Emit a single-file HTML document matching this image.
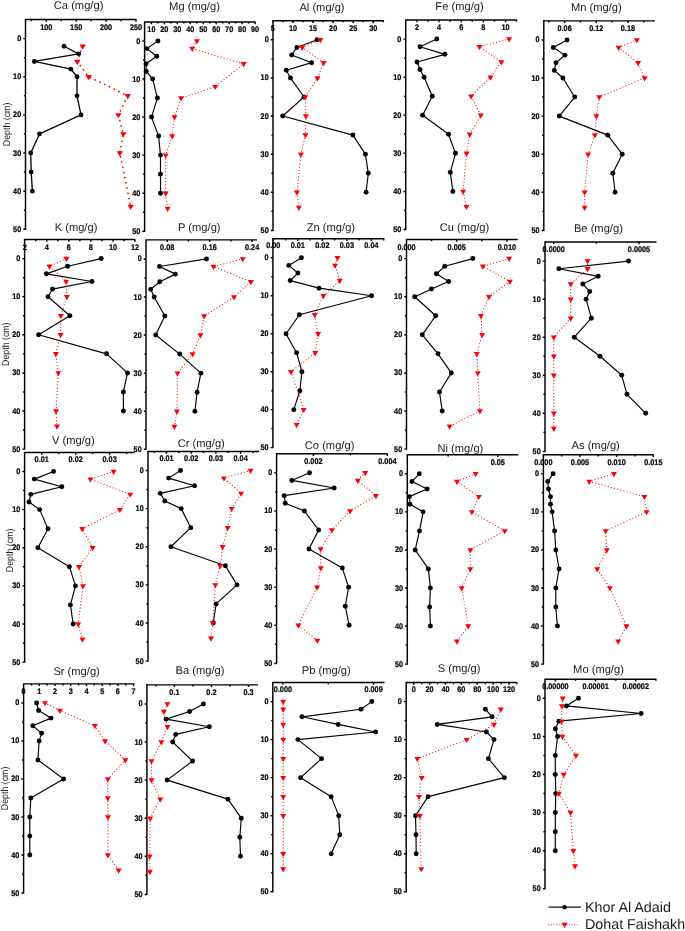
<!DOCTYPE html>
<html><head><meta charset="utf-8"><title>Depth profiles</title>
<style>
html,body{margin:0;padding:0;background:#fff;}
svg{display:block;}
#wrap{width:685px;height:931px;}
text{font-family:"Liberation Sans",Arial,sans-serif;fill:#000;text-rendering:geometricPrecision;}
.ax{fill:none;stroke:#000;stroke-width:1.45;stroke-linecap:butt;}
.yl{font-size:7.3px;font-weight:bold;text-anchor:end;stroke:#000;stroke-width:0.2;}
.xl{font-size:7.3px;font-weight:bold;text-anchor:middle;stroke:#000;stroke-width:0.2;}
.tt{font-size:11.15px;text-anchor:middle;fill:#1a1a1a;}
.dl{font-size:8.8px;text-anchor:middle;fill:#1a1a1a;}
.lg{font-size:14.3px;fill:#1a1a1a;}
.rl{fill:none;stroke:#ff0000;stroke-linecap:round;}
.bl{fill:none;stroke:#000;stroke-linejoin:round;}
.tri{fill:#ff0000;}
circle{fill:#000;}
</style></head>
<body>
<div id="wrap">
<svg width="685" height="931" viewBox="0 0 685 931">
<rect width="685" height="931" fill="#fff"/>
<path d="M25.5 18.8V230.03M24.77 19.53H136.5M25.5 38.6h-2.23M25.5 76.74h-2.23M25.5 114.88h-2.23M25.5 153.02h-2.23M25.5 191.16h-2.23M25.5 229.3h-2.23M25.5 57.67h-1.62M25.5 95.81h-1.62M25.5 133.95h-1.62M25.5 172.09h-1.62M25.5 210.23h-1.62M46.3 19.53v2.23M76.2 19.53v2.23M106.1 19.53v2.23M136 19.53v2.23M31.35 19.53v1.62M61.25 19.53v1.62M91.15 19.53v1.62M121.05 19.53v1.62" class="ax"/>
<text transform="translate(21.2 41.15) scale(1 1.12)" class="yl">0</text>
<text transform="translate(21.2 79.29) scale(1 1.12)" class="yl">10</text>
<text transform="translate(21.2 117.43) scale(1 1.12)" class="yl">20</text>
<text transform="translate(21.2 155.57) scale(1 1.12)" class="yl">30</text>
<text transform="translate(21.2 193.71) scale(1 1.12)" class="yl">40</text>
<text transform="translate(21.2 231.85) scale(1 1.12)" class="yl">50</text>
<text transform="translate(46.3 29.85) scale(1 1.12)" class="xl">100</text>
<text transform="translate(76.2 29.85) scale(1 1.12)" class="xl">150</text>
<text transform="translate(106.1 29.85) scale(1 1.12)" class="xl">200</text>
<text transform="translate(136 29.85) scale(1 1.12)" class="xl">250</text>
<text x="78.6" y="8.9" class="tt">Ca (mg/g)</text>
<text transform="translate(9.8 124.4) rotate(-90) scale(1 1.12)" class="dl">Depth (cm)</text>
<polyline points="64,46.23 78.7,53.86 34.3,61.48 70.9,69.11 77,76.74 77,95.81 81,114.88 39.5,133.95 30.7,153.02 31.2,172.09 32.4,191.16" class="bl" stroke-width="1.3"/>
<circle cx="64" cy="46.23" r="2.4"/>
<circle cx="78.7" cy="53.86" r="2.4"/>
<circle cx="34.3" cy="61.48" r="2.4"/>
<circle cx="70.9" cy="69.11" r="2.4"/>
<circle cx="77" cy="76.74" r="2.4"/>
<circle cx="77" cy="95.81" r="2.4"/>
<circle cx="81" cy="114.88" r="2.4"/>
<circle cx="39.5" cy="133.95" r="2.4"/>
<circle cx="30.7" cy="153.02" r="2.4"/>
<circle cx="31.2" cy="172.09" r="2.4"/>
<circle cx="32.4" cy="191.16" r="2.4"/>
<polyline points="82.7,46.23 77.3,61.48 88.6,76.74 127.8,95.81 118.4,114.88 123.3,133.95 119.8,153.02 130.7,206.42" class="rl" stroke-width="1.75" stroke-dasharray="0.05 5.25"/>
<path d="M79.5 44.49h6.4l-3.2 5.2z" class="tri"/>
<path d="M74.1 59.75h6.4l-3.2 5.2z" class="tri"/>
<path d="M85.4 75.01h6.4l-3.2 5.2z" class="tri"/>
<path d="M124.6 94.08h6.4l-3.2 5.2z" class="tri"/>
<path d="M115.2 113.15h6.4l-3.2 5.2z" class="tri"/>
<path d="M120.1 132.22h6.4l-3.2 5.2z" class="tri"/>
<path d="M116.6 151.29h6.4l-3.2 5.2z" class="tri"/>
<path d="M127.5 204.68h6.4l-3.2 5.2z" class="tri"/>
<path d="M144.6 21.25V231.92M143.88 21.98H255.6M144.6 41h-2.23M144.6 79.04h-2.23M144.6 117.08h-2.23M144.6 155.12h-2.23M144.6 193.16h-2.23M144.6 231.2h-2.23M144.6 60.02h-1.62M144.6 98.06h-1.62M144.6 136.1h-1.62M144.6 174.14h-1.62M144.6 212.18h-1.62M151.4 21.98v2.23M164.36 21.98v2.23M177.32 21.98v2.23M190.29 21.98v2.23M203.25 21.98v2.23M216.21 21.98v2.23M229.18 21.98v2.23M242.14 21.98v2.23M255.1 21.98v2.23M157.88 21.98v1.62M170.84 21.98v1.62M183.81 21.98v1.62M196.77 21.98v1.62M209.73 21.98v1.62M222.69 21.98v1.62M235.66 21.98v1.62M248.62 21.98v1.62" class="ax"/>
<text transform="translate(140.3 43.55) scale(1 1.12)" class="yl">0</text>
<text transform="translate(140.3 81.59) scale(1 1.12)" class="yl">10</text>
<text transform="translate(140.3 119.63) scale(1 1.12)" class="yl">20</text>
<text transform="translate(140.3 157.67) scale(1 1.12)" class="yl">30</text>
<text transform="translate(140.3 195.71) scale(1 1.12)" class="yl">40</text>
<text transform="translate(140.3 233.75) scale(1 1.12)" class="yl">50</text>
<text transform="translate(151.4 32.15) scale(1 1.12)" class="xl">10</text>
<text transform="translate(164.36 32.15) scale(1 1.12)" class="xl">20</text>
<text transform="translate(177.32 32.15) scale(1 1.12)" class="xl">30</text>
<text transform="translate(190.29 32.15) scale(1 1.12)" class="xl">40</text>
<text transform="translate(203.25 32.15) scale(1 1.12)" class="xl">50</text>
<text transform="translate(216.21 32.15) scale(1 1.12)" class="xl">60</text>
<text transform="translate(229.18 32.15) scale(1 1.12)" class="xl">70</text>
<text transform="translate(242.14 32.15) scale(1 1.12)" class="xl">80</text>
<text transform="translate(255.1 32.15) scale(1 1.12)" class="xl">90</text>
<text x="194.5" y="10" class="tt">Mg (mg/g)</text>
<polyline points="157.9,41 146.8,48.61 156.7,56.22 146.1,63.82 146.3,71.43 152.7,79.04 157.4,98.06 151.5,117.08 158.6,136.1 160.5,155.12 160.5,174.14 160.5,193.16" class="bl" stroke-width="1.15"/>
<circle cx="157.9" cy="41" r="2.48"/>
<circle cx="146.8" cy="48.61" r="2.48"/>
<circle cx="156.7" cy="56.22" r="2.48"/>
<circle cx="146.1" cy="63.82" r="2.48"/>
<circle cx="146.3" cy="71.43" r="2.48"/>
<circle cx="152.7" cy="79.04" r="2.48"/>
<circle cx="157.4" cy="98.06" r="2.48"/>
<circle cx="151.5" cy="117.08" r="2.48"/>
<circle cx="158.6" cy="136.1" r="2.48"/>
<circle cx="160.5" cy="155.12" r="2.48"/>
<circle cx="160.5" cy="174.14" r="2.48"/>
<circle cx="160.5" cy="193.16" r="2.48"/>
<polyline points="196.9,41 192.2,48.61 243.7,63.82 215.3,86.65 181.1,98.06 174.5,117.08 172.1,136.1 165.7,155.12 165.7,193.16 167.6,208.38" class="rl" stroke-width="1.15" stroke-dasharray="0.05 3.2"/>
<path d="M193.9 39.27h6l-3 5.2z" class="tri"/>
<path d="M189.2 46.87h6l-3 5.2z" class="tri"/>
<path d="M240.7 62.09h6l-3 5.2z" class="tri"/>
<path d="M212.3 84.91h6l-3 5.2z" class="tri"/>
<path d="M178.1 96.33h6l-3 5.2z" class="tri"/>
<path d="M171.5 115.35h6l-3 5.2z" class="tri"/>
<path d="M169.1 134.37h6l-3 5.2z" class="tri"/>
<path d="M162.7 153.39h6l-3 5.2z" class="tri"/>
<path d="M162.7 191.43h6l-3 5.2z" class="tri"/>
<path d="M164.6 206.64h6l-3 5.2z" class="tri"/>
<path d="M273 20.01V231.12M272.27 20.74H384M273 39.8h-2.23M273 77.92h-2.23M273 116.04h-2.23M273 154.16h-2.23M273 192.28h-2.23M273 230.4h-2.23M273 58.86h-1.62M273 96.98h-1.62M273 135.1h-1.62M273 173.22h-1.62M273 211.34h-1.62M272.9 20.74v2.23M292.98 20.74v2.23M313.06 20.74v2.23M333.14 20.74v2.23M353.22 20.74v2.23M373.3 20.74v2.23M282.94 20.74v1.62M303.02 20.74v1.62M323.1 20.74v1.62M343.18 20.74v1.62M363.26 20.74v1.62M383.34 20.74v1.62" class="ax"/>
<text transform="translate(268.7 42.35) scale(1 1.12)" class="yl">0</text>
<text transform="translate(268.7 80.47) scale(1 1.12)" class="yl">10</text>
<text transform="translate(268.7 118.59) scale(1 1.12)" class="yl">20</text>
<text transform="translate(268.7 156.71) scale(1 1.12)" class="yl">30</text>
<text transform="translate(268.7 194.83) scale(1 1.12)" class="yl">40</text>
<text transform="translate(268.7 232.95) scale(1 1.12)" class="yl">50</text>
<text transform="translate(272.9 30.75) scale(1 1.12)" class="xl">5</text>
<text transform="translate(292.98 30.75) scale(1 1.12)" class="xl">10</text>
<text transform="translate(313.06 30.75) scale(1 1.12)" class="xl">15</text>
<text transform="translate(333.14 30.75) scale(1 1.12)" class="xl">20</text>
<text transform="translate(353.22 30.75) scale(1 1.12)" class="xl">25</text>
<text transform="translate(373.3 30.75) scale(1 1.12)" class="xl">30</text>
<text x="322" y="10.9" class="tt">Al (mg/g)</text>
<polyline points="317,39.8 296.9,47.42 291.7,55.05 311.6,62.67 286.3,70.3 290.5,77.92 304,96.98 282.7,116.04 352.9,135.1 365.4,154.16 368.3,173.22 366.1,192.28" class="bl" stroke-width="1.15"/>
<circle cx="317" cy="39.8" r="2.48"/>
<circle cx="296.9" cy="47.42" r="2.48"/>
<circle cx="291.7" cy="55.05" r="2.48"/>
<circle cx="311.6" cy="62.67" r="2.48"/>
<circle cx="286.3" cy="70.3" r="2.48"/>
<circle cx="290.5" cy="77.92" r="2.48"/>
<circle cx="304" cy="96.98" r="2.48"/>
<circle cx="282.7" cy="116.04" r="2.48"/>
<circle cx="352.9" cy="135.1" r="2.48"/>
<circle cx="365.4" cy="154.16" r="2.48"/>
<circle cx="368.3" cy="173.22" r="2.48"/>
<circle cx="366.1" cy="192.28" r="2.48"/>
<polyline points="320.3,39.8 302.1,47.42 323.6,62.67 317.5,77.92 305.2,96.98 305.9,116.04 305.4,135.1 300.9,154.16 296.9,192.28 298.8,207.53" class="rl" stroke-width="1.15" stroke-dasharray="0.05 3.2"/>
<path d="M317.3 38.07h6l-3 5.2z" class="tri"/>
<path d="M299.1 45.69h6l-3 5.2z" class="tri"/>
<path d="M320.6 60.94h6l-3 5.2z" class="tri"/>
<path d="M314.5 76.19h6l-3 5.2z" class="tri"/>
<path d="M302.2 95.25h6l-3 5.2z" class="tri"/>
<path d="M302.9 114.31h6l-3 5.2z" class="tri"/>
<path d="M302.4 133.37h6l-3 5.2z" class="tri"/>
<path d="M297.9 152.43h6l-3 5.2z" class="tri"/>
<path d="M293.9 190.55h6l-3 5.2z" class="tri"/>
<path d="M295.8 205.79h6l-3 5.2z" class="tri"/>
<path d="M405.7 19.33V230.22M404.97 20.06H517M405.7 39.1h-2.23M405.7 77.18h-2.23M405.7 115.26h-2.23M405.7 153.34h-2.23M405.7 191.42h-2.23M405.7 229.5h-2.23M405.7 58.14h-1.62M405.7 96.22h-1.62M405.7 134.3h-1.62M405.7 172.38h-1.62M405.7 210.46h-1.62M417 20.06v2.23M439.12 20.06v2.23M461.25 20.06v2.23M483.38 20.06v2.23M505.5 20.06v2.23M428.06 20.06v1.62M450.19 20.06v1.62M472.31 20.06v1.62M494.44 20.06v1.62M516.56 20.06v1.62" class="ax"/>
<text transform="translate(401.4 41.65) scale(1 1.12)" class="yl">0</text>
<text transform="translate(401.4 79.73) scale(1 1.12)" class="yl">10</text>
<text transform="translate(401.4 117.81) scale(1 1.12)" class="yl">20</text>
<text transform="translate(401.4 155.89) scale(1 1.12)" class="yl">30</text>
<text transform="translate(401.4 193.97) scale(1 1.12)" class="yl">40</text>
<text transform="translate(401.4 232.05) scale(1 1.12)" class="yl">50</text>
<text transform="translate(417 30.25) scale(1 1.12)" class="xl">2</text>
<text transform="translate(439.12 30.25) scale(1 1.12)" class="xl">4</text>
<text transform="translate(461.25 30.25) scale(1 1.12)" class="xl">6</text>
<text transform="translate(483.38 30.25) scale(1 1.12)" class="xl">8</text>
<text transform="translate(505.5 30.25) scale(1 1.12)" class="xl">10</text>
<text x="459.5" y="9.6" class="tt">Fe (mg/g)</text>
<polyline points="436.8,39.1 420,46.72 444.9,54.33 417,61.95 420,69.56 424.1,77.18 432.3,96.22 422.6,115.26 448.6,134.3 455.5,153.34 450.3,172.38 452.9,191.42" class="bl" stroke-width="1.15"/>
<circle cx="436.8" cy="39.1" r="2.48"/>
<circle cx="420" cy="46.72" r="2.48"/>
<circle cx="444.9" cy="54.33" r="2.48"/>
<circle cx="417" cy="61.95" r="2.48"/>
<circle cx="420" cy="69.56" r="2.48"/>
<circle cx="424.1" cy="77.18" r="2.48"/>
<circle cx="432.3" cy="96.22" r="2.48"/>
<circle cx="422.6" cy="115.26" r="2.48"/>
<circle cx="448.6" cy="134.3" r="2.48"/>
<circle cx="455.5" cy="153.34" r="2.48"/>
<circle cx="450.3" cy="172.38" r="2.48"/>
<circle cx="452.9" cy="191.42" r="2.48"/>
<polyline points="509.1,39.1 479.4,46.72 501.3,61.95 490.5,77.18 471.1,96.22 480.8,115.26 469.7,134.3 466.6,153.34 463.1,191.42 466.4,206.65" class="rl" stroke-width="1.15" stroke-dasharray="0.05 3.2"/>
<path d="M506.1 37.37h6l-3 5.2z" class="tri"/>
<path d="M476.4 44.98h6l-3 5.2z" class="tri"/>
<path d="M498.3 60.21h6l-3 5.2z" class="tri"/>
<path d="M487.5 75.45h6l-3 5.2z" class="tri"/>
<path d="M468.1 94.49h6l-3 5.2z" class="tri"/>
<path d="M477.8 113.53h6l-3 5.2z" class="tri"/>
<path d="M466.7 132.57h6l-3 5.2z" class="tri"/>
<path d="M463.6 151.61h6l-3 5.2z" class="tri"/>
<path d="M460.1 189.69h6l-3 5.2z" class="tri"/>
<path d="M463.4 204.92h6l-3 5.2z" class="tri"/>
<path d="M543.8 20.12V231.12M543.07 20.85H655M543.8 39.9h-2.23M543.8 78h-2.23M543.8 116.1h-2.23M543.8 154.2h-2.23M543.8 192.3h-2.23M543.8 230.4h-2.23M543.8 58.95h-1.62M543.8 97.05h-1.62M543.8 135.15h-1.62M543.8 173.25h-1.62M543.8 211.35h-1.62M564.6 20.85v2.23M596.25 20.85v2.23M627.9 20.85v2.23M548.78 20.85v1.62M580.42 20.85v1.62M612.08 20.85v1.62M643.72 20.85v1.62" class="ax"/>
<text transform="translate(539.5 42.45) scale(1 1.12)" class="yl">0</text>
<text transform="translate(539.5 80.55) scale(1 1.12)" class="yl">10</text>
<text transform="translate(539.5 118.65) scale(1 1.12)" class="yl">20</text>
<text transform="translate(539.5 156.75) scale(1 1.12)" class="yl">30</text>
<text transform="translate(539.5 194.85) scale(1 1.12)" class="yl">40</text>
<text transform="translate(539.5 232.95) scale(1 1.12)" class="yl">50</text>
<text transform="translate(564.6 30.75) scale(1 1.12)" class="xl">0.06</text>
<text transform="translate(596.25 30.75) scale(1 1.12)" class="xl">0.12</text>
<text transform="translate(627.9 30.75) scale(1 1.12)" class="xl">0.18</text>
<text x="596.4" y="10.6" class="tt">Mn (mg/g)</text>
<polyline points="567.1,39.9 553.3,47.52 564.9,55.14 556,62.76 554.3,70.38 562.9,78 574.7,97.05 559.3,116.1 607.8,135.15 622.2,154.2 612.8,173.25 615.1,192.3" class="bl" stroke-width="1.15"/>
<circle cx="567.1" cy="39.9" r="2.48"/>
<circle cx="553.3" cy="47.52" r="2.48"/>
<circle cx="564.9" cy="55.14" r="2.48"/>
<circle cx="556" cy="62.76" r="2.48"/>
<circle cx="554.3" cy="70.38" r="2.48"/>
<circle cx="562.9" cy="78" r="2.48"/>
<circle cx="574.7" cy="97.05" r="2.48"/>
<circle cx="559.3" cy="116.1" r="2.48"/>
<circle cx="607.8" cy="135.15" r="2.48"/>
<circle cx="622.2" cy="154.2" r="2.48"/>
<circle cx="612.8" cy="173.25" r="2.48"/>
<circle cx="615.1" cy="192.3" r="2.48"/>
<polyline points="636.8,39.9 618.6,47.52 638.1,62.76 644.6,78 599.2,97.05 596.4,116.1 594.9,135.15 588.1,154.2 584.6,192.3 584.6,207.54" class="rl" stroke-width="1.15" stroke-dasharray="0.05 3.2"/>
<path d="M633.8 38.17h6l-3 5.2z" class="tri"/>
<path d="M615.6 45.79h6l-3 5.2z" class="tri"/>
<path d="M635.1 61.03h6l-3 5.2z" class="tri"/>
<path d="M641.6 76.27h6l-3 5.2z" class="tri"/>
<path d="M596.2 95.32h6l-3 5.2z" class="tri"/>
<path d="M593.4 114.37h6l-3 5.2z" class="tri"/>
<path d="M591.9 133.42h6l-3 5.2z" class="tri"/>
<path d="M585.1 152.47h6l-3 5.2z" class="tri"/>
<path d="M581.6 190.57h6l-3 5.2z" class="tri"/>
<path d="M581.6 205.81h6l-3 5.2z" class="tri"/>
<path d="M24.6 238.83V449.83M23.88 239.55H135.4M24.6 258.6h-2.23M24.6 296.7h-2.23M24.6 334.8h-2.23M24.6 372.9h-2.23M24.6 411h-2.23M24.6 449.1h-2.23M24.6 277.65h-1.62M24.6 315.75h-1.62M24.6 353.85h-1.62M24.6 391.95h-1.62M24.6 430.05h-1.62M24.7 239.55v2.23M46.76 239.55v2.23M68.82 239.55v2.23M90.88 239.55v2.23M112.94 239.55v2.23M135 239.55v2.23M35.73 239.55v1.62M57.79 239.55v1.62M79.85 239.55v1.62M101.91 239.55v1.62M123.97 239.55v1.62" class="ax"/>
<text transform="translate(20.3 261.15) scale(1 1.12)" class="yl">0</text>
<text transform="translate(20.3 299.25) scale(1 1.12)" class="yl">10</text>
<text transform="translate(20.3 337.35) scale(1 1.12)" class="yl">20</text>
<text transform="translate(20.3 375.45) scale(1 1.12)" class="yl">30</text>
<text transform="translate(20.3 413.55) scale(1 1.12)" class="yl">40</text>
<text transform="translate(20.3 451.65) scale(1 1.12)" class="yl">50</text>
<text transform="translate(24.7 249.85) scale(1 1.12)" class="xl">2</text>
<text transform="translate(46.76 249.85) scale(1 1.12)" class="xl">4</text>
<text transform="translate(68.82 249.85) scale(1 1.12)" class="xl">6</text>
<text transform="translate(90.88 249.85) scale(1 1.12)" class="xl">8</text>
<text transform="translate(112.94 249.85) scale(1 1.12)" class="xl">10</text>
<text transform="translate(135 249.85) scale(1 1.12)" class="xl">12</text>
<text x="76" y="231.1" class="tt">K (mg/g)</text>
<text transform="translate(8.6 344.2) rotate(-90) scale(1 1.12)" class="dl">Depth (cm)</text>
<polyline points="101.2,258.6 67.6,266.22 46.4,273.84 91.9,281.46 52.5,289.08 48,296.7 69.9,315.75 38.6,334.8 106.5,353.85 127.5,372.9 123.4,391.95 123.4,411" class="bl" stroke-width="1.15"/>
<circle cx="101.2" cy="258.6" r="2.48"/>
<circle cx="67.6" cy="266.22" r="2.48"/>
<circle cx="46.4" cy="273.84" r="2.48"/>
<circle cx="91.9" cy="281.46" r="2.48"/>
<circle cx="52.5" cy="289.08" r="2.48"/>
<circle cx="48" cy="296.7" r="2.48"/>
<circle cx="69.9" cy="315.75" r="2.48"/>
<circle cx="38.6" cy="334.8" r="2.48"/>
<circle cx="106.5" cy="353.85" r="2.48"/>
<circle cx="127.5" cy="372.9" r="2.48"/>
<circle cx="123.4" cy="391.95" r="2.48"/>
<circle cx="123.4" cy="411" r="2.48"/>
<polyline points="66.4,258.6 49.5,266.22 66.1,281.46 66.9,296.7 60.8,315.75 60.6,334.8 55.8,353.85 58.3,372.9 56,411 57,426.24" class="rl" stroke-width="1.15" stroke-dasharray="0.05 3.2"/>
<path d="M63.4 256.87h6l-3 5.2z" class="tri"/>
<path d="M46.5 264.49h6l-3 5.2z" class="tri"/>
<path d="M63.1 279.73h6l-3 5.2z" class="tri"/>
<path d="M63.9 294.97h6l-3 5.2z" class="tri"/>
<path d="M57.8 314.02h6l-3 5.2z" class="tri"/>
<path d="M57.6 333.07h6l-3 5.2z" class="tri"/>
<path d="M52.8 352.12h6l-3 5.2z" class="tri"/>
<path d="M55.3 371.17h6l-3 5.2z" class="tri"/>
<path d="M53 409.27h6l-3 5.2z" class="tri"/>
<path d="M54 424.51h6l-3 5.2z" class="tri"/>
<path d="M146 239.13V450.03M145.28 239.86H257M146 258.9h-2.23M146 296.98h-2.23M146 335.06h-2.23M146 373.14h-2.23M146 411.22h-2.23M146 449.3h-2.23M146 277.94h-1.62M146 316.02h-1.62M146 354.1h-1.62M146 392.18h-1.62M146 430.26h-1.62M167.2 239.86v2.23M209.65 239.86v2.23M252.1 239.86v2.23M188.42 239.86v1.62M230.88 239.86v1.62" class="ax"/>
<text transform="translate(141.7 261.45) scale(1 1.12)" class="yl">0</text>
<text transform="translate(141.7 299.53) scale(1 1.12)" class="yl">10</text>
<text transform="translate(141.7 337.61) scale(1 1.12)" class="yl">20</text>
<text transform="translate(141.7 375.69) scale(1 1.12)" class="yl">30</text>
<text transform="translate(141.7 413.77) scale(1 1.12)" class="yl">40</text>
<text transform="translate(141.7 451.85) scale(1 1.12)" class="yl">50</text>
<text transform="translate(167.2 249.75) scale(1 1.12)" class="xl">0.08</text>
<text transform="translate(209.65 249.75) scale(1 1.12)" class="xl">0.16</text>
<text transform="translate(252.1 249.75) scale(1 1.12)" class="xl">0.24</text>
<text x="199.3" y="231.1" class="tt">P (mg/g)</text>
<polyline points="206.5,258.9 159.5,266.52 175.4,274.13 159.8,281.75 150.7,289.36 154.2,296.98 164.8,316.02 155.7,335.06 179.7,354.1 200.9,373.14 197.1,392.18 194.9,411.22" class="bl" stroke-width="1.15"/>
<circle cx="206.5" cy="258.9" r="2.48"/>
<circle cx="159.5" cy="266.52" r="2.48"/>
<circle cx="175.4" cy="274.13" r="2.48"/>
<circle cx="159.8" cy="281.75" r="2.48"/>
<circle cx="150.7" cy="289.36" r="2.48"/>
<circle cx="154.2" cy="296.98" r="2.48"/>
<circle cx="164.8" cy="316.02" r="2.48"/>
<circle cx="155.7" cy="335.06" r="2.48"/>
<circle cx="179.7" cy="354.1" r="2.48"/>
<circle cx="200.9" cy="373.14" r="2.48"/>
<circle cx="197.1" cy="392.18" r="2.48"/>
<circle cx="194.9" cy="411.22" r="2.48"/>
<polyline points="242.8,258.9 213.5,266.52 250.9,281.75 234,296.98 204.2,316.02 200.4,335.06 192.6,354.1 177.5,373.14 176.9,411.22 174.4,426.45" class="rl" stroke-width="1.15" stroke-dasharray="0.05 3.2"/>
<path d="M239.8 257.17h6l-3 5.2z" class="tri"/>
<path d="M210.5 264.78h6l-3 5.2z" class="tri"/>
<path d="M247.9 280.01h6l-3 5.2z" class="tri"/>
<path d="M231 295.25h6l-3 5.2z" class="tri"/>
<path d="M201.2 314.29h6l-3 5.2z" class="tri"/>
<path d="M197.4 333.33h6l-3 5.2z" class="tri"/>
<path d="M189.6 352.37h6l-3 5.2z" class="tri"/>
<path d="M174.5 371.41h6l-3 5.2z" class="tri"/>
<path d="M173.9 409.49h6l-3 5.2z" class="tri"/>
<path d="M171.4 424.72h6l-3 5.2z" class="tri"/>
<path d="M272.9 238.1V448.33M272.17 238.82H384.5M272.9 257.8h-2.23M272.9 295.76h-2.23M272.9 333.72h-2.23M272.9 371.68h-2.23M272.9 409.64h-2.23M272.9 447.6h-2.23M272.9 276.78h-1.62M272.9 314.74h-1.62M272.9 352.7h-1.62M272.9 390.66h-1.62M272.9 428.62h-1.62M273.3 238.82v2.23M297.82 238.82v2.23M322.35 238.82v2.23M346.88 238.82v2.23M371.4 238.82v2.23M285.56 238.82v1.62M310.09 238.82v1.62M334.61 238.82v1.62M359.14 238.82v1.62M383.66 238.82v1.62" class="ax"/>
<text transform="translate(268.6 260.35) scale(1 1.12)" class="yl">0</text>
<text transform="translate(268.6 298.31) scale(1 1.12)" class="yl">10</text>
<text transform="translate(268.6 336.27) scale(1 1.12)" class="yl">20</text>
<text transform="translate(268.6 374.23) scale(1 1.12)" class="yl">30</text>
<text transform="translate(268.6 412.19) scale(1 1.12)" class="yl">40</text>
<text transform="translate(268.6 450.15) scale(1 1.12)" class="yl">50</text>
<text transform="translate(273.3 248.45) scale(1 1.12)" class="xl">0.00</text>
<text transform="translate(297.82 248.45) scale(1 1.12)" class="xl">0.01</text>
<text transform="translate(322.35 248.45) scale(1 1.12)" class="xl">0.02</text>
<text transform="translate(346.88 248.45) scale(1 1.12)" class="xl">0.03</text>
<text transform="translate(371.4 248.45) scale(1 1.12)" class="xl">0.04</text>
<text x="330.9" y="231.1" class="tt">Zn (mg/g)</text>
<polyline points="301.4,257.8 288.8,265.39 297.9,272.98 290.3,280.58 319.1,288.17 371.6,295.76 299.4,314.74 286,333.72 296.6,352.7 301.9,371.68 299.9,390.66 293.8,409.64" class="bl" stroke-width="1.15"/>
<circle cx="301.4" cy="257.8" r="2.48"/>
<circle cx="288.8" cy="265.39" r="2.48"/>
<circle cx="297.9" cy="272.98" r="2.48"/>
<circle cx="290.3" cy="280.58" r="2.48"/>
<circle cx="319.1" cy="288.17" r="2.48"/>
<circle cx="371.6" cy="295.76" r="2.48"/>
<circle cx="299.4" cy="314.74" r="2.48"/>
<circle cx="286" cy="333.72" r="2.48"/>
<circle cx="296.6" cy="352.7" r="2.48"/>
<circle cx="301.9" cy="371.68" r="2.48"/>
<circle cx="299.9" cy="390.66" r="2.48"/>
<circle cx="293.8" cy="409.64" r="2.48"/>
<polyline points="337.5,257.8 335,265.39 339.8,280.58 323.4,295.76 314.8,314.74 318.1,333.72 315.3,352.7 291,371.68 303.7,409.64 296.6,424.82" class="rl" stroke-width="1.15" stroke-dasharray="0.05 3.2"/>
<path d="M334.5 256.07h6l-3 5.2z" class="tri"/>
<path d="M332 263.66h6l-3 5.2z" class="tri"/>
<path d="M336.8 278.84h6l-3 5.2z" class="tri"/>
<path d="M320.4 294.03h6l-3 5.2z" class="tri"/>
<path d="M311.8 313.01h6l-3 5.2z" class="tri"/>
<path d="M315.1 331.99h6l-3 5.2z" class="tri"/>
<path d="M312.3 350.97h6l-3 5.2z" class="tri"/>
<path d="M288 369.95h6l-3 5.2z" class="tri"/>
<path d="M300.7 407.91h6l-3 5.2z" class="tri"/>
<path d="M293.6 423.09h6l-3 5.2z" class="tri"/>
<path d="M406.5 238.83V449.83M405.77 239.55H517.7M406.5 258.6h-2.23M406.5 296.7h-2.23M406.5 334.8h-2.23M406.5 372.9h-2.23M406.5 411h-2.23M406.5 449.1h-2.23M406.5 277.65h-1.62M406.5 315.75h-1.62M406.5 353.85h-1.62M406.5 391.95h-1.62M406.5 430.05h-1.62M406.5 239.55v2.23M456.7 239.55v2.23M506.9 239.55v2.23M431.6 239.55v1.62M481.8 239.55v1.62" class="ax"/>
<text transform="translate(402.2 261.15) scale(1 1.12)" class="yl">0</text>
<text transform="translate(402.2 299.25) scale(1 1.12)" class="yl">10</text>
<text transform="translate(402.2 337.35) scale(1 1.12)" class="yl">20</text>
<text transform="translate(402.2 375.45) scale(1 1.12)" class="yl">30</text>
<text transform="translate(402.2 413.55) scale(1 1.12)" class="yl">40</text>
<text transform="translate(402.2 451.65) scale(1 1.12)" class="yl">50</text>
<text transform="translate(406.5 249.85) scale(1 1.12)" class="xl">0.000</text>
<text transform="translate(456.7 249.85) scale(1 1.12)" class="xl">0.005</text>
<text transform="translate(506.9 249.85) scale(1 1.12)" class="xl">0.010</text>
<text x="464.5" y="230.8" class="tt">Cu (mg/g)</text>
<polyline points="472.8,258.6 444.8,266.22 436.4,273.84 448.6,281.46 431.4,289.08 414.7,296.7 435.7,315.75 422.3,334.8 438,353.85 451.3,372.9 439.5,391.95 442.2,411" class="bl" stroke-width="1.15"/>
<circle cx="472.8" cy="258.6" r="2.48"/>
<circle cx="444.8" cy="266.22" r="2.48"/>
<circle cx="436.4" cy="273.84" r="2.48"/>
<circle cx="448.6" cy="281.46" r="2.48"/>
<circle cx="431.4" cy="289.08" r="2.48"/>
<circle cx="414.7" cy="296.7" r="2.48"/>
<circle cx="435.7" cy="315.75" r="2.48"/>
<circle cx="422.3" cy="334.8" r="2.48"/>
<circle cx="438" cy="353.85" r="2.48"/>
<circle cx="451.3" cy="372.9" r="2.48"/>
<circle cx="439.5" cy="391.95" r="2.48"/>
<circle cx="442.2" cy="411" r="2.48"/>
<polyline points="509.1,258.6 482.9,266.22 509.9,281.46 488.9,296.7 480.9,315.75 482.1,334.8 476.8,353.85 477.8,372.9 479.9,411 449.6,426.24" class="rl" stroke-width="1.15" stroke-dasharray="0.05 3.2"/>
<path d="M506.1 256.87h6l-3 5.2z" class="tri"/>
<path d="M479.9 264.49h6l-3 5.2z" class="tri"/>
<path d="M506.9 279.73h6l-3 5.2z" class="tri"/>
<path d="M485.9 294.97h6l-3 5.2z" class="tri"/>
<path d="M477.9 314.02h6l-3 5.2z" class="tri"/>
<path d="M479.1 333.07h6l-3 5.2z" class="tri"/>
<path d="M473.8 352.12h6l-3 5.2z" class="tri"/>
<path d="M474.8 371.17h6l-3 5.2z" class="tri"/>
<path d="M476.9 409.27h6l-3 5.2z" class="tri"/>
<path d="M446.6 424.51h6l-3 5.2z" class="tri"/>
<path d="M545 241.35V452.12M544.27 242.07H656.5M545 261.1h-2.23M545 299.16h-2.23M545 337.22h-2.23M545 375.28h-2.23M545 413.34h-2.23M545 451.4h-2.23M545 280.13h-1.62M545 318.19h-1.62M545 356.25h-1.62M545 394.31h-1.62M545 432.37h-1.62M553.7 242.07v2.23M639 242.07v2.23M596.35 242.07v1.62" class="ax"/>
<text transform="translate(540.7 263.65) scale(1 1.12)" class="yl">0</text>
<text transform="translate(540.7 301.71) scale(1 1.12)" class="yl">10</text>
<text transform="translate(540.7 339.77) scale(1 1.12)" class="yl">20</text>
<text transform="translate(540.7 377.83) scale(1 1.12)" class="yl">30</text>
<text transform="translate(540.7 415.89) scale(1 1.12)" class="yl">40</text>
<text transform="translate(540.7 453.95) scale(1 1.12)" class="yl">50</text>
<text transform="translate(553.7 252.25) scale(1 1.12)" class="xl">0.0000</text>
<text transform="translate(639 252.25) scale(1 1.12)" class="xl">0.0005</text>
<text x="598.4" y="231.7" class="tt">Be (mg/g)</text>
<polyline points="628.5,261.1 558.9,268.71 598.2,276.32 582.8,283.94 589.7,291.55 586.1,299.16 591.4,318.19 574.3,337.22 600,356.25 621.7,375.28 627,394.31 645.7,413.34" class="bl" stroke-width="1.15"/>
<circle cx="628.5" cy="261.1" r="2.48"/>
<circle cx="558.9" cy="268.71" r="2.48"/>
<circle cx="598.2" cy="276.32" r="2.48"/>
<circle cx="582.8" cy="283.94" r="2.48"/>
<circle cx="589.7" cy="291.55" r="2.48"/>
<circle cx="586.1" cy="299.16" r="2.48"/>
<circle cx="591.4" cy="318.19" r="2.48"/>
<circle cx="574.3" cy="337.22" r="2.48"/>
<circle cx="600" cy="356.25" r="2.48"/>
<circle cx="621.7" cy="375.28" r="2.48"/>
<circle cx="627" cy="394.31" r="2.48"/>
<circle cx="645.7" cy="413.34" r="2.48"/>
<polyline points="587.6,261.1 587.6,268.71 570.7,283.94 570.7,299.16 570.7,318.19 553.8,337.22 553.8,356.25 553.8,375.28 553.8,413.34 553.8,428.56" class="rl" stroke-width="1.15" stroke-dasharray="0.05 3.2"/>
<path d="M584.6 259.37h6l-3 5.2z" class="tri"/>
<path d="M584.6 266.98h6l-3 5.2z" class="tri"/>
<path d="M567.7 282.2h6l-3 5.2z" class="tri"/>
<path d="M567.7 297.43h6l-3 5.2z" class="tri"/>
<path d="M567.7 316.46h6l-3 5.2z" class="tri"/>
<path d="M550.8 335.49h6l-3 5.2z" class="tri"/>
<path d="M550.8 354.52h6l-3 5.2z" class="tri"/>
<path d="M550.8 373.55h6l-3 5.2z" class="tri"/>
<path d="M550.8 411.61h6l-3 5.2z" class="tri"/>
<path d="M550.8 426.83h6l-3 5.2z" class="tri"/>
<path d="M24.6 451.71V662.83M23.88 452.44H134.5M24.6 471.5h-2.23M24.6 509.62h-2.23M24.6 547.74h-2.23M24.6 585.86h-2.23M24.6 623.98h-2.23M24.6 662.1h-2.23M24.6 490.56h-1.62M24.6 528.68h-1.62M24.6 566.8h-1.62M24.6 604.92h-1.62M24.6 643.04h-1.62M41.7 452.44v2.23M75.65 452.44v2.23M109.6 452.44v2.23M58.67 452.44v1.62M92.62 452.44v1.62M126.58 452.44v1.62" class="ax"/>
<text transform="translate(20.3 474.05) scale(1 1.12)" class="yl">0</text>
<text transform="translate(20.3 512.17) scale(1 1.12)" class="yl">10</text>
<text transform="translate(20.3 550.29) scale(1 1.12)" class="yl">20</text>
<text transform="translate(20.3 588.41) scale(1 1.12)" class="yl">30</text>
<text transform="translate(20.3 626.53) scale(1 1.12)" class="yl">40</text>
<text transform="translate(20.3 664.65) scale(1 1.12)" class="yl">50</text>
<text transform="translate(41.7 462.45) scale(1 1.12)" class="xl">0.01</text>
<text transform="translate(75.65 462.45) scale(1 1.12)" class="xl">0.02</text>
<text transform="translate(109.6 462.45) scale(1 1.12)" class="xl">0.03</text>
<text x="73.4" y="444" class="tt">V (mg/g)</text>
<text transform="translate(13.2 550.4) rotate(-90) scale(1 1.12)" class="dl">Depth (cm)</text>
<polyline points="53.5,471.5 34.3,479.12 61.8,486.75 30.8,494.37 29,502 39.6,509.62 48,528.68 37.9,547.74 69.4,566.8 75.5,585.86 70.4,604.92 73.2,623.98" class="bl" stroke-width="1.15"/>
<circle cx="53.5" cy="471.5" r="2.48"/>
<circle cx="34.3" cy="479.12" r="2.48"/>
<circle cx="61.8" cy="486.75" r="2.48"/>
<circle cx="30.8" cy="494.37" r="2.48"/>
<circle cx="29" cy="502" r="2.48"/>
<circle cx="39.6" cy="509.62" r="2.48"/>
<circle cx="48" cy="528.68" r="2.48"/>
<circle cx="37.9" cy="547.74" r="2.48"/>
<circle cx="69.4" cy="566.8" r="2.48"/>
<circle cx="75.5" cy="585.86" r="2.48"/>
<circle cx="70.4" cy="604.92" r="2.48"/>
<circle cx="73.2" cy="623.98" r="2.48"/>
<polyline points="113.6,471.5 90.4,479.12 130.2,494.37 119.9,509.62 82.3,528.68 92.6,547.74 79,566.8 83,585.86 78.2,623.98 82.5,639.23" class="rl" stroke-width="1.15" stroke-dasharray="0.05 3.2"/>
<path d="M110.6 469.77h6l-3 5.2z" class="tri"/>
<path d="M87.4 477.39h6l-3 5.2z" class="tri"/>
<path d="M127.2 492.64h6l-3 5.2z" class="tri"/>
<path d="M116.9 507.89h6l-3 5.2z" class="tri"/>
<path d="M79.3 526.95h6l-3 5.2z" class="tri"/>
<path d="M89.6 546.01h6l-3 5.2z" class="tri"/>
<path d="M76 565.07h6l-3 5.2z" class="tri"/>
<path d="M80 584.13h6l-3 5.2z" class="tri"/>
<path d="M75.2 622.25h6l-3 5.2z" class="tri"/>
<path d="M79.5 637.49h6l-3 5.2z" class="tri"/>
<path d="M148 450.71V661.83M147.28 451.44H259M148 470.5h-2.23M148 508.62h-2.23M148 546.74h-2.23M148 584.86h-2.23M148 622.98h-2.23M148 661.1h-2.23M148 489.56h-1.62M148 527.68h-1.62M148 565.8h-1.62M148 603.92h-1.62M148 642.04h-1.62M166.5 451.44v2.23M191.2 451.44v2.23M215.9 451.44v2.23M240.6 451.44v2.23M154.15 451.44v1.62M178.85 451.44v1.62M203.55 451.44v1.62M228.25 451.44v1.62M252.95 451.44v1.62" class="ax"/>
<text transform="translate(143.7 473.05) scale(1 1.12)" class="yl">0</text>
<text transform="translate(143.7 511.17) scale(1 1.12)" class="yl">10</text>
<text transform="translate(143.7 549.29) scale(1 1.12)" class="yl">20</text>
<text transform="translate(143.7 587.41) scale(1 1.12)" class="yl">30</text>
<text transform="translate(143.7 625.53) scale(1 1.12)" class="yl">40</text>
<text transform="translate(143.7 663.65) scale(1 1.12)" class="yl">50</text>
<text transform="translate(166.5 461.35) scale(1 1.12)" class="xl">0.01</text>
<text transform="translate(191.2 461.35) scale(1 1.12)" class="xl">0.02</text>
<text transform="translate(215.9 461.35) scale(1 1.12)" class="xl">0.03</text>
<text transform="translate(240.6 461.35) scale(1 1.12)" class="xl">0.04</text>
<text x="201.3" y="446.8" class="tt">Cr (mg/g)</text>
<polyline points="180.5,470.5 168.6,478.12 194.6,485.75 160.3,493.37 164.8,501 181.2,508.62 190.8,527.68 170.9,546.74 225.4,565.8 237,584.86 216.1,603.92 213.3,622.98" class="bl" stroke-width="1.15"/>
<circle cx="180.5" cy="470.5" r="2.48"/>
<circle cx="168.6" cy="478.12" r="2.48"/>
<circle cx="194.6" cy="485.75" r="2.48"/>
<circle cx="160.3" cy="493.37" r="2.48"/>
<circle cx="164.8" cy="501" r="2.48"/>
<circle cx="181.2" cy="508.62" r="2.48"/>
<circle cx="190.8" cy="527.68" r="2.48"/>
<circle cx="170.9" cy="546.74" r="2.48"/>
<circle cx="225.4" cy="565.8" r="2.48"/>
<circle cx="237" cy="584.86" r="2.48"/>
<circle cx="216.1" cy="603.92" r="2.48"/>
<circle cx="213.3" cy="622.98" r="2.48"/>
<polyline points="250.6,470.5 223.9,478.12 241.1,493.37 231.7,508.62 227.7,527.68 222.6,546.74 220.1,565.8 215.3,584.86 212.8,622.98 211,638.23" class="rl" stroke-width="1.15" stroke-dasharray="0.05 3.2"/>
<path d="M247.6 468.77h6l-3 5.2z" class="tri"/>
<path d="M220.9 476.39h6l-3 5.2z" class="tri"/>
<path d="M238.1 491.64h6l-3 5.2z" class="tri"/>
<path d="M228.7 506.89h6l-3 5.2z" class="tri"/>
<path d="M224.7 525.95h6l-3 5.2z" class="tri"/>
<path d="M219.6 545.01h6l-3 5.2z" class="tri"/>
<path d="M217.1 564.07h6l-3 5.2z" class="tri"/>
<path d="M212.3 583.13h6l-3 5.2z" class="tri"/>
<path d="M209.8 621.25h6l-3 5.2z" class="tri"/>
<path d="M208 636.49h6l-3 5.2z" class="tri"/>
<path d="M276.6 453.01V664.12M275.88 453.74H387.7M276.6 472.8h-2.23M276.6 510.92h-2.23M276.6 549.04h-2.23M276.6 587.16h-2.23M276.6 625.28h-2.23M276.6 663.4h-2.23M276.6 491.86h-1.62M276.6 529.98h-1.62M276.6 568.1h-1.62M276.6 606.22h-1.62M276.6 644.34h-1.62M313.4 453.74v2.23M387.4 453.74v2.23M350.4 453.74v1.62" class="ax"/>
<text transform="translate(272.3 475.35) scale(1 1.12)" class="yl">0</text>
<text transform="translate(272.3 513.47) scale(1 1.12)" class="yl">10</text>
<text transform="translate(272.3 551.59) scale(1 1.12)" class="yl">20</text>
<text transform="translate(272.3 589.71) scale(1 1.12)" class="yl">30</text>
<text transform="translate(272.3 627.83) scale(1 1.12)" class="yl">40</text>
<text transform="translate(272.3 665.95) scale(1 1.12)" class="yl">50</text>
<text transform="translate(313.4 463.85) scale(1 1.12)" class="xl">0.002</text>
<text transform="translate(387.4 463.85) scale(1 1.12)" class="xl">0.004</text>
<text x="329.6" y="449.1" class="tt">Co (mg/g)</text>
<polyline points="309.5,472.8 291.8,480.42 334.2,488.05 284.2,495.67 285.2,503.3 304.4,510.92 318.6,529.98 309,549.04 342.3,568.1 348.6,587.16 345.3,606.22 349.1,625.28" class="bl" stroke-width="1.15"/>
<circle cx="309.5" cy="472.8" r="2.48"/>
<circle cx="291.8" cy="480.42" r="2.48"/>
<circle cx="334.2" cy="488.05" r="2.48"/>
<circle cx="284.2" cy="495.67" r="2.48"/>
<circle cx="285.2" cy="503.3" r="2.48"/>
<circle cx="304.4" cy="510.92" r="2.48"/>
<circle cx="318.6" cy="529.98" r="2.48"/>
<circle cx="309" cy="549.04" r="2.48"/>
<circle cx="342.3" cy="568.1" r="2.48"/>
<circle cx="348.6" cy="587.16" r="2.48"/>
<circle cx="345.3" cy="606.22" r="2.48"/>
<circle cx="349.1" cy="625.28" r="2.48"/>
<polyline points="365.2,472.8 357.7,480.42 375.9,495.67 350.1,510.92 331.9,529.98 320.6,549.04 320.8,568.1 317,587.16 298.4,625.28 317.3,640.53" class="rl" stroke-width="1.15" stroke-dasharray="0.05 3.2"/>
<path d="M362.2 471.07h6l-3 5.2z" class="tri"/>
<path d="M354.7 478.69h6l-3 5.2z" class="tri"/>
<path d="M372.9 493.94h6l-3 5.2z" class="tri"/>
<path d="M347.1 509.19h6l-3 5.2z" class="tri"/>
<path d="M328.9 528.25h6l-3 5.2z" class="tri"/>
<path d="M317.6 547.31h6l-3 5.2z" class="tri"/>
<path d="M317.8 566.37h6l-3 5.2z" class="tri"/>
<path d="M314 585.43h6l-3 5.2z" class="tri"/>
<path d="M295.4 623.55h6l-3 5.2z" class="tri"/>
<path d="M314.3 638.79h6l-3 5.2z" class="tri"/>
<path d="M407.3 454.04V664.83M406.57 454.77H518.3M407.3 473.8h-2.23M407.3 511.86h-2.23M407.3 549.92h-2.23M407.3 587.98h-2.23M407.3 626.04h-2.23M407.3 664.1h-2.23M407.3 492.83h-1.62M407.3 530.89h-1.62M407.3 568.95h-1.62M407.3 607.01h-1.62M407.3 645.07h-1.62M497.8 454.77v2.23M448.2 454.77v1.62" class="ax"/>
<text transform="translate(403 476.35) scale(1 1.12)" class="yl">0</text>
<text transform="translate(403 514.41) scale(1 1.12)" class="yl">10</text>
<text transform="translate(403 552.47) scale(1 1.12)" class="yl">20</text>
<text transform="translate(403 590.53) scale(1 1.12)" class="yl">30</text>
<text transform="translate(403 628.59) scale(1 1.12)" class="yl">40</text>
<text transform="translate(403 666.65) scale(1 1.12)" class="yl">50</text>
<text transform="translate(497.8 464.85) scale(1 1.12)" class="xl">0.05</text>
<text x="460.4" y="451.5" class="tt">Ni (mg/g)</text>
<polyline points="419.3,473.8 412,481.41 427.1,489.02 409.4,496.64 409.9,504.25 423.1,511.86 419.5,530.89 415.2,549.92 428.4,568.95 430.4,587.98 429.6,607.01 430.4,626.04" class="bl" stroke-width="1.15"/>
<circle cx="419.3" cy="473.8" r="2.48"/>
<circle cx="412" cy="481.41" r="2.48"/>
<circle cx="427.1" cy="489.02" r="2.48"/>
<circle cx="409.4" cy="496.64" r="2.48"/>
<circle cx="409.9" cy="504.25" r="2.48"/>
<circle cx="423.1" cy="511.86" r="2.48"/>
<circle cx="419.5" cy="530.89" r="2.48"/>
<circle cx="415.2" cy="549.92" r="2.48"/>
<circle cx="428.4" cy="568.95" r="2.48"/>
<circle cx="430.4" cy="587.98" r="2.48"/>
<circle cx="429.6" cy="607.01" r="2.48"/>
<circle cx="430.4" cy="626.04" r="2.48"/>
<polyline points="475.6,473.8 456.9,481.41 478.8,496.64 471.8,511.86 504.8,530.89 470.3,549.92 470.3,568.95 461.7,587.98 468.2,626.04 456.9,641.26" class="rl" stroke-width="1.15" stroke-dasharray="0.05 3.2"/>
<path d="M472.6 472.07h6l-3 5.2z" class="tri"/>
<path d="M453.9 479.68h6l-3 5.2z" class="tri"/>
<path d="M475.8 494.9h6l-3 5.2z" class="tri"/>
<path d="M468.8 510.13h6l-3 5.2z" class="tri"/>
<path d="M501.8 529.16h6l-3 5.2z" class="tri"/>
<path d="M467.3 548.19h6l-3 5.2z" class="tri"/>
<path d="M467.3 567.22h6l-3 5.2z" class="tri"/>
<path d="M458.7 586.25h6l-3 5.2z" class="tri"/>
<path d="M465.2 624.31h6l-3 5.2z" class="tri"/>
<path d="M453.9 639.53h6l-3 5.2z" class="tri"/>
<path d="M543.4 454.04V664.83M542.67 454.77H653.6M543.4 473.8h-2.23M543.4 511.86h-2.23M543.4 549.92h-2.23M543.4 587.98h-2.23M543.4 626.04h-2.23M543.4 664.1h-2.23M543.4 492.83h-1.62M543.4 530.89h-1.62M543.4 568.95h-1.62M543.4 607.01h-1.62M543.4 645.07h-1.62M543.3 454.77v2.23M579.97 454.77v2.23M616.63 454.77v2.23M653.3 454.77v2.23M561.63 454.77v1.62M598.3 454.77v1.62M634.97 454.77v1.62" class="ax"/>
<text transform="translate(539.1 476.35) scale(1 1.12)" class="yl">0</text>
<text transform="translate(539.1 514.41) scale(1 1.12)" class="yl">10</text>
<text transform="translate(539.1 552.47) scale(1 1.12)" class="yl">20</text>
<text transform="translate(539.1 590.53) scale(1 1.12)" class="yl">30</text>
<text transform="translate(539.1 628.59) scale(1 1.12)" class="yl">40</text>
<text transform="translate(539.1 666.65) scale(1 1.12)" class="yl">50</text>
<text transform="translate(543.3 465.35) scale(1 1.12)" class="xl">0.000</text>
<text transform="translate(579.97 465.35) scale(1 1.12)" class="xl">0.005</text>
<text transform="translate(616.63 465.35) scale(1 1.12)" class="xl">0.010</text>
<text transform="translate(653.3 465.35) scale(1 1.12)" class="xl">0.015</text>
<text x="595.7" y="448.8" class="tt">As (mg/g)</text>
<polyline points="553.1,473.8 547.8,481.41 548.5,489.02 550.5,496.64 550.5,504.25 552.1,511.86 554.6,530.89 555.8,549.92 559.1,568.95 555.8,587.98 555.8,607.01 557.4,626.04" class="bl" stroke-width="1.15"/>
<circle cx="553.1" cy="473.8" r="2.48"/>
<circle cx="547.8" cy="481.41" r="2.48"/>
<circle cx="548.5" cy="489.02" r="2.48"/>
<circle cx="550.5" cy="496.64" r="2.48"/>
<circle cx="550.5" cy="504.25" r="2.48"/>
<circle cx="552.1" cy="511.86" r="2.48"/>
<circle cx="554.6" cy="530.89" r="2.48"/>
<circle cx="555.8" cy="549.92" r="2.48"/>
<circle cx="559.1" cy="568.95" r="2.48"/>
<circle cx="555.8" cy="587.98" r="2.48"/>
<circle cx="555.8" cy="607.01" r="2.48"/>
<circle cx="557.4" cy="626.04" r="2.48"/>
<polyline points="613.9,473.8 589.2,481.41 644.4,496.64 646.7,511.86 605.6,530.89 606.8,549.92 597.2,568.95 609.9,587.98 626.5,626.04 618.2,641.26" class="rl" stroke-width="1.15" stroke-dasharray="0.05 3.2"/>
<path d="M610.9 472.07h6l-3 5.2z" class="tri"/>
<path d="M586.2 479.68h6l-3 5.2z" class="tri"/>
<path d="M641.4 494.9h6l-3 5.2z" class="tri"/>
<path d="M643.7 510.13h6l-3 5.2z" class="tri"/>
<path d="M602.6 529.16h6l-3 5.2z" class="tri"/>
<path d="M603.8 548.19h6l-3 5.2z" class="tri"/>
<path d="M594.2 567.22h6l-3 5.2z" class="tri"/>
<path d="M606.9 586.25h6l-3 5.2z" class="tri"/>
<path d="M623.5 624.31h6l-3 5.2z" class="tri"/>
<path d="M615.2 639.53h6l-3 5.2z" class="tri"/>
<path d="M23.6 683.16V893.73M22.88 683.89H134.5M23.6 702.9h-2.23M23.6 740.92h-2.23M23.6 778.94h-2.23M23.6 816.96h-2.23M23.6 854.98h-2.23M23.6 893h-2.23M23.6 721.91h-1.62M23.6 759.93h-1.62M23.6 797.95h-1.62M23.6 835.97h-1.62M23.6 873.99h-1.62M23.6 683.89v2.23M39.31 683.89v2.23M55.03 683.89v2.23M70.74 683.89v2.23M86.46 683.89v2.23M102.17 683.89v2.23M117.89 683.89v2.23M133.6 683.89v2.23M31.46 683.89v1.62M47.17 683.89v1.62M62.89 683.89v1.62M78.6 683.89v1.62M94.31 683.89v1.62M110.03 683.89v1.62M125.74 683.89v1.62" class="ax"/>
<text transform="translate(19.3 705.45) scale(1 1.12)" class="yl">0</text>
<text transform="translate(19.3 743.47) scale(1 1.12)" class="yl">10</text>
<text transform="translate(19.3 781.49) scale(1 1.12)" class="yl">20</text>
<text transform="translate(19.3 819.51) scale(1 1.12)" class="yl">30</text>
<text transform="translate(19.3 857.53) scale(1 1.12)" class="yl">40</text>
<text transform="translate(19.3 895.55) scale(1 1.12)" class="yl">50</text>
<text transform="translate(23.6 693.85) scale(1 1.12)" class="xl">0</text>
<text transform="translate(39.31 693.85) scale(1 1.12)" class="xl">1</text>
<text transform="translate(55.03 693.85) scale(1 1.12)" class="xl">2</text>
<text transform="translate(70.74 693.85) scale(1 1.12)" class="xl">3</text>
<text transform="translate(86.46 693.85) scale(1 1.12)" class="xl">4</text>
<text transform="translate(102.17 693.85) scale(1 1.12)" class="xl">5</text>
<text transform="translate(117.89 693.85) scale(1 1.12)" class="xl">6</text>
<text transform="translate(133.6 693.85) scale(1 1.12)" class="xl">7</text>
<text x="76.6" y="674.8" class="tt">Sr (mg/g)</text>
<text transform="translate(7.9 788.4) rotate(-90) scale(1 1.12)" class="dl">Depth (cm)</text>
<polyline points="36.6,702.9 38.6,710.5 51,718.11 32.8,725.71 41.6,733.32 39.1,740.92 37.9,759.93 63.6,778.94 30.8,797.95 29.8,816.96 29.8,835.97 29.8,854.98" class="bl" stroke-width="1.15"/>
<circle cx="36.6" cy="702.9" r="2.48"/>
<circle cx="38.6" cy="710.5" r="2.48"/>
<circle cx="51" cy="718.11" r="2.48"/>
<circle cx="32.8" cy="725.71" r="2.48"/>
<circle cx="41.6" cy="733.32" r="2.48"/>
<circle cx="39.1" cy="740.92" r="2.48"/>
<circle cx="37.9" cy="759.93" r="2.48"/>
<circle cx="63.6" cy="778.94" r="2.48"/>
<circle cx="30.8" cy="797.95" r="2.48"/>
<circle cx="29.8" cy="816.96" r="2.48"/>
<circle cx="29.8" cy="835.97" r="2.48"/>
<circle cx="29.8" cy="854.98" r="2.48"/>
<polyline points="44.9,702.9 59.8,710.5 94.9,725.71 105,740.92 125.4,759.93 107.8,778.94 107.8,797.95 108,816.96 107.8,854.98 118.6,870.19" class="rl" stroke-width="1.15" stroke-dasharray="0.05 3.2"/>
<path d="M41.9 701.17h6l-3 5.2z" class="tri"/>
<path d="M56.8 708.77h6l-3 5.2z" class="tri"/>
<path d="M91.9 723.98h6l-3 5.2z" class="tri"/>
<path d="M102 739.19h6l-3 5.2z" class="tri"/>
<path d="M122.4 758.2h6l-3 5.2z" class="tri"/>
<path d="M104.8 777.21h6l-3 5.2z" class="tri"/>
<path d="M104.8 796.22h6l-3 5.2z" class="tri"/>
<path d="M105 815.23h6l-3 5.2z" class="tri"/>
<path d="M104.8 853.25h6l-3 5.2z" class="tri"/>
<path d="M115.6 868.45h6l-3 5.2z" class="tri"/>
<path d="M146.9 684.12V895.12M146.18 684.85H258M146.9 703.9h-2.23M146.9 742h-2.23M146.9 780.1h-2.23M146.9 818.2h-2.23M146.9 856.3h-2.23M146.9 894.4h-2.23M146.9 722.95h-1.62M146.9 761.05h-1.62M146.9 799.15h-1.62M146.9 837.25h-1.62M146.9 875.35h-1.62M174.4 684.85v2.23M211.45 684.85v2.23M248.5 684.85v2.23M155.88 684.85v1.62M192.93 684.85v1.62M229.97 684.85v1.62" class="ax"/>
<text transform="translate(142.6 706.45) scale(1 1.12)" class="yl">0</text>
<text transform="translate(142.6 744.55) scale(1 1.12)" class="yl">10</text>
<text transform="translate(142.6 782.65) scale(1 1.12)" class="yl">20</text>
<text transform="translate(142.6 820.75) scale(1 1.12)" class="yl">30</text>
<text transform="translate(142.6 858.85) scale(1 1.12)" class="yl">40</text>
<text transform="translate(142.6 896.95) scale(1 1.12)" class="yl">50</text>
<text transform="translate(174.4 694.85) scale(1 1.12)" class="xl">0.1</text>
<text transform="translate(211.45 694.85) scale(1 1.12)" class="xl">0.2</text>
<text transform="translate(248.5 694.85) scale(1 1.12)" class="xl">0.3</text>
<text x="200" y="674" class="tt">Ba (mg/g)</text>
<polyline points="203.4,703.9 189.6,711.52 166.1,719.14 209.3,726.76 175.7,734.38 172.7,742 192.6,761.05 167.1,780.1 227.9,799.15 241.3,818.2 239.8,837.25 240.5,856.3" class="bl" stroke-width="1.15"/>
<circle cx="203.4" cy="703.9" r="2.48"/>
<circle cx="189.6" cy="711.52" r="2.48"/>
<circle cx="166.1" cy="719.14" r="2.48"/>
<circle cx="209.3" cy="726.76" r="2.48"/>
<circle cx="175.7" cy="734.38" r="2.48"/>
<circle cx="172.7" cy="742" r="2.48"/>
<circle cx="192.6" cy="761.05" r="2.48"/>
<circle cx="167.1" cy="780.1" r="2.48"/>
<circle cx="227.9" cy="799.15" r="2.48"/>
<circle cx="241.3" cy="818.2" r="2.48"/>
<circle cx="239.8" cy="837.25" r="2.48"/>
<circle cx="240.5" cy="856.3" r="2.48"/>
<polyline points="167.4,703.9 163.8,711.52 167.6,726.76 161.3,742 151.5,761.05 151.5,780.1 160.3,799.15 150.2,818.2 149.7,856.3 149.9,871.54" class="rl" stroke-width="1.15" stroke-dasharray="0.05 3.2"/>
<path d="M164.4 702.17h6l-3 5.2z" class="tri"/>
<path d="M160.8 709.79h6l-3 5.2z" class="tri"/>
<path d="M164.6 725.03h6l-3 5.2z" class="tri"/>
<path d="M158.3 740.27h6l-3 5.2z" class="tri"/>
<path d="M148.5 759.32h6l-3 5.2z" class="tri"/>
<path d="M148.5 778.37h6l-3 5.2z" class="tri"/>
<path d="M157.3 797.42h6l-3 5.2z" class="tri"/>
<path d="M147.2 816.47h6l-3 5.2z" class="tri"/>
<path d="M146.7 854.57h6l-3 5.2z" class="tri"/>
<path d="M146.9 869.81h6l-3 5.2z" class="tri"/>
<path d="M272.8 681.87V892.43M272.07 682.59H384.5M272.8 701.6h-2.23M272.8 739.62h-2.23M272.8 777.64h-2.23M272.8 815.66h-2.23M272.8 853.68h-2.23M272.8 891.7h-2.23M272.8 720.61h-1.62M272.8 758.63h-1.62M272.8 796.65h-1.62M272.8 834.67h-1.62M272.8 872.69h-1.62M282.9 682.59v2.23M373.6 682.59v2.23M328.25 682.59v1.62" class="ax"/>
<text transform="translate(268.5 704.15) scale(1 1.12)" class="yl">0</text>
<text transform="translate(268.5 742.17) scale(1 1.12)" class="yl">10</text>
<text transform="translate(268.5 780.19) scale(1 1.12)" class="yl">20</text>
<text transform="translate(268.5 818.21) scale(1 1.12)" class="yl">30</text>
<text transform="translate(268.5 856.23) scale(1 1.12)" class="yl">40</text>
<text transform="translate(268.5 894.25) scale(1 1.12)" class="yl">50</text>
<text transform="translate(282.9 692.45) scale(1 1.12)" class="xl">0.000</text>
<text transform="translate(373.6 692.45) scale(1 1.12)" class="xl">0.009</text>
<text x="326.2" y="674.1" class="tt">Pb (mg/g)</text>
<polyline points="371.8,701.6 361,709.2 301.9,716.81 338.2,724.41 375.6,732.02 297.9,739.62 321.6,758.63 300.6,777.64 331.2,796.65 338.7,815.66 339.8,834.67 331.2,853.68" class="bl" stroke-width="1.15"/>
<circle cx="371.8" cy="701.6" r="2.48"/>
<circle cx="361" cy="709.2" r="2.48"/>
<circle cx="301.9" cy="716.81" r="2.48"/>
<circle cx="338.2" cy="724.41" r="2.48"/>
<circle cx="375.6" cy="732.02" r="2.48"/>
<circle cx="297.9" cy="739.62" r="2.48"/>
<circle cx="321.6" cy="758.63" r="2.48"/>
<circle cx="300.6" cy="777.64" r="2.48"/>
<circle cx="331.2" cy="796.65" r="2.48"/>
<circle cx="338.7" cy="815.66" r="2.48"/>
<circle cx="339.8" cy="834.67" r="2.48"/>
<circle cx="331.2" cy="853.68" r="2.48"/>
<polyline points="283.2,701.6 283.2,709.2 283.2,724.41 283.2,739.62 283.2,758.63 283.2,777.64 283.2,796.65 283.2,815.66 283.2,853.68 283.2,868.89" class="rl" stroke-width="1.15" stroke-dasharray="0.05 3.2"/>
<path d="M280.2 699.87h6l-3 5.2z" class="tri"/>
<path d="M280.2 707.47h6l-3 5.2z" class="tri"/>
<path d="M280.2 722.68h6l-3 5.2z" class="tri"/>
<path d="M280.2 737.89h6l-3 5.2z" class="tri"/>
<path d="M280.2 756.9h6l-3 5.2z" class="tri"/>
<path d="M280.2 775.91h6l-3 5.2z" class="tri"/>
<path d="M280.2 794.92h6l-3 5.2z" class="tri"/>
<path d="M280.2 813.93h6l-3 5.2z" class="tri"/>
<path d="M280.2 851.95h6l-3 5.2z" class="tri"/>
<path d="M280.2 867.15h6l-3 5.2z" class="tri"/>
<path d="M406.2 681.87V892.43M405.47 682.59H517M406.2 701.6h-2.23M406.2 739.62h-2.23M406.2 777.64h-2.23M406.2 815.66h-2.23M406.2 853.68h-2.23M406.2 891.7h-2.23M406.2 720.61h-1.62M406.2 758.63h-1.62M406.2 796.65h-1.62M406.2 834.67h-1.62M406.2 872.69h-1.62M413.7 682.59v2.23M429.58 682.59v2.23M445.47 682.59v2.23M461.35 682.59v2.23M477.23 682.59v2.23M493.12 682.59v2.23M509 682.59v2.23M421.64 682.59v1.62M437.52 682.59v1.62M453.41 682.59v1.62M469.29 682.59v1.62M485.18 682.59v1.62M501.06 682.59v1.62M516.94 682.59v1.62" class="ax"/>
<text transform="translate(401.9 704.15) scale(1 1.12)" class="yl">0</text>
<text transform="translate(401.9 742.17) scale(1 1.12)" class="yl">10</text>
<text transform="translate(401.9 780.19) scale(1 1.12)" class="yl">20</text>
<text transform="translate(401.9 818.21) scale(1 1.12)" class="yl">30</text>
<text transform="translate(401.9 856.23) scale(1 1.12)" class="yl">40</text>
<text transform="translate(401.9 894.25) scale(1 1.12)" class="yl">50</text>
<text transform="translate(413.7 692.45) scale(1 1.12)" class="xl">0</text>
<text transform="translate(429.58 692.45) scale(1 1.12)" class="xl">20</text>
<text transform="translate(445.47 692.45) scale(1 1.12)" class="xl">40</text>
<text transform="translate(461.35 692.45) scale(1 1.12)" class="xl">60</text>
<text transform="translate(477.23 692.45) scale(1 1.12)" class="xl">80</text>
<text transform="translate(493.12 692.45) scale(1 1.12)" class="xl">100</text>
<text transform="translate(509 692.45) scale(1 1.12)" class="xl">120</text>
<text x="459.1" y="672.3" class="tt">S (mg/g)</text>
<polyline points="485.4,709.2 492,716.81 437.2,724.41 486.4,732.02 494,739.62 488.4,758.63 504.3,777.64 428.1,796.65 415.5,815.66 416,834.67 416.2,853.68" class="bl" stroke-width="1.15"/>
<circle cx="485.4" cy="709.2" r="2.48"/>
<circle cx="492" cy="716.81" r="2.48"/>
<circle cx="437.2" cy="724.41" r="2.48"/>
<circle cx="486.4" cy="732.02" r="2.48"/>
<circle cx="494" cy="739.62" r="2.48"/>
<circle cx="488.4" cy="758.63" r="2.48"/>
<circle cx="504.3" cy="777.64" r="2.48"/>
<circle cx="428.1" cy="796.65" r="2.48"/>
<circle cx="415.5" cy="815.66" r="2.48"/>
<circle cx="416" cy="834.67" r="2.48"/>
<circle cx="416.2" cy="853.68" r="2.48"/>
<polyline points="500.8,709.2 494,724.41 466.7,739.62 417.3,758.63 421.8,777.64 419,796.65 419.8,815.66 421.3,868.89" class="rl" stroke-width="1.15" stroke-dasharray="0.05 3.2"/>
<path d="M497.8 707.47h6l-3 5.2z" class="tri"/>
<path d="M491 722.68h6l-3 5.2z" class="tri"/>
<path d="M463.7 737.89h6l-3 5.2z" class="tri"/>
<path d="M414.3 756.9h6l-3 5.2z" class="tri"/>
<path d="M418.8 775.91h6l-3 5.2z" class="tri"/>
<path d="M416 794.92h6l-3 5.2z" class="tri"/>
<path d="M416.8 813.93h6l-3 5.2z" class="tri"/>
<path d="M418.3 867.15h6l-3 5.2z" class="tri"/>
<path d="M545 678.52V889.52M544.27 679.25H656.5M545 698.3h-2.23M545 736.4h-2.23M545 774.5h-2.23M545 812.6h-2.23M545 850.7h-2.23M545 888.8h-2.23M545 717.35h-1.62M545 755.45h-1.62M545 793.55h-1.62M545 831.65h-1.62M545 869.75h-1.62M555.4 679.25v2.23M595.6 679.25v2.23M635.8 679.25v2.23M575.5 679.25v1.62M615.7 679.25v1.62M655.9 679.25v1.62" class="ax"/>
<text transform="translate(540.7 700.85) scale(1 1.12)" class="yl">0</text>
<text transform="translate(540.7 738.95) scale(1 1.12)" class="yl">10</text>
<text transform="translate(540.7 777.05) scale(1 1.12)" class="yl">20</text>
<text transform="translate(540.7 815.15) scale(1 1.12)" class="yl">30</text>
<text transform="translate(540.7 853.25) scale(1 1.12)" class="yl">40</text>
<text transform="translate(540.7 891.35) scale(1 1.12)" class="yl">50</text>
<text transform="translate(555.4 689.15) scale(1 1.12)" class="xl">0.00000</text>
<text transform="translate(595.6 689.15) scale(1 1.12)" class="xl">0.00001</text>
<text transform="translate(635.8 689.15) scale(1 1.12)" class="xl">0.00002</text>
<text x="598.5" y="673.4" class="tt">Mo (mg/g)</text>
<polyline points="578.5,698.3 566.3,705.92 641.1,713.54 558.9,721.16 555.4,728.78 557.6,736.4 555.3,755.45 555.3,774.5 555.8,793.55 555.3,812.6 555.3,831.65 555.3,850.7" class="bl" stroke-width="1.15"/>
<circle cx="578.5" cy="698.3" r="2.48"/>
<circle cx="566.3" cy="705.92" r="2.48"/>
<circle cx="641.1" cy="713.54" r="2.48"/>
<circle cx="558.9" cy="721.16" r="2.48"/>
<circle cx="555.4" cy="728.78" r="2.48"/>
<circle cx="557.6" cy="736.4" r="2.48"/>
<circle cx="555.3" cy="755.45" r="2.48"/>
<circle cx="555.3" cy="774.5" r="2.48"/>
<circle cx="555.8" cy="793.55" r="2.48"/>
<circle cx="555.3" cy="812.6" r="2.48"/>
<circle cx="555.3" cy="831.65" r="2.48"/>
<circle cx="555.3" cy="850.7" r="2.48"/>
<polyline points="562.8,698.3 561.9,705.92 561.5,721.16 562.4,736.4 576,755.45 563.7,774.5 558.9,793.55 570.5,812.6 573.3,850.7 575,865.94" class="rl" stroke-width="1.15" stroke-dasharray="0.05 3.2"/>
<path d="M559.8 696.57h6l-3 5.2z" class="tri"/>
<path d="M558.9 704.19h6l-3 5.2z" class="tri"/>
<path d="M558.5 719.43h6l-3 5.2z" class="tri"/>
<path d="M559.4 734.67h6l-3 5.2z" class="tri"/>
<path d="M573 753.72h6l-3 5.2z" class="tri"/>
<path d="M560.7 772.77h6l-3 5.2z" class="tri"/>
<path d="M555.9 791.82h6l-3 5.2z" class="tri"/>
<path d="M567.5 810.87h6l-3 5.2z" class="tri"/>
<path d="M570.3 848.97h6l-3 5.2z" class="tri"/>
<path d="M572 864.21h6l-3 5.2z" class="tri"/>
<path d="M548.5 907.1H580.9" stroke="#111" stroke-width="1.1"/>
<circle cx="564.6" cy="907.2" r="2.2"/>
<path d="M548.7 924.8H579.0" stroke="#ff0000" stroke-width="1.05" stroke-dasharray="0.05 2.55" stroke-linecap="round"/>
<path d="M561.6 922.87h6l-3 5.2z" class="tri"/>
<text x="585.0" y="911.8" class="lg">Khor Al Adaid</text>
<text x="585.0" y="929.3" class="lg">Dohat Faishakh</text>
</svg>
</div>
</body></html>
